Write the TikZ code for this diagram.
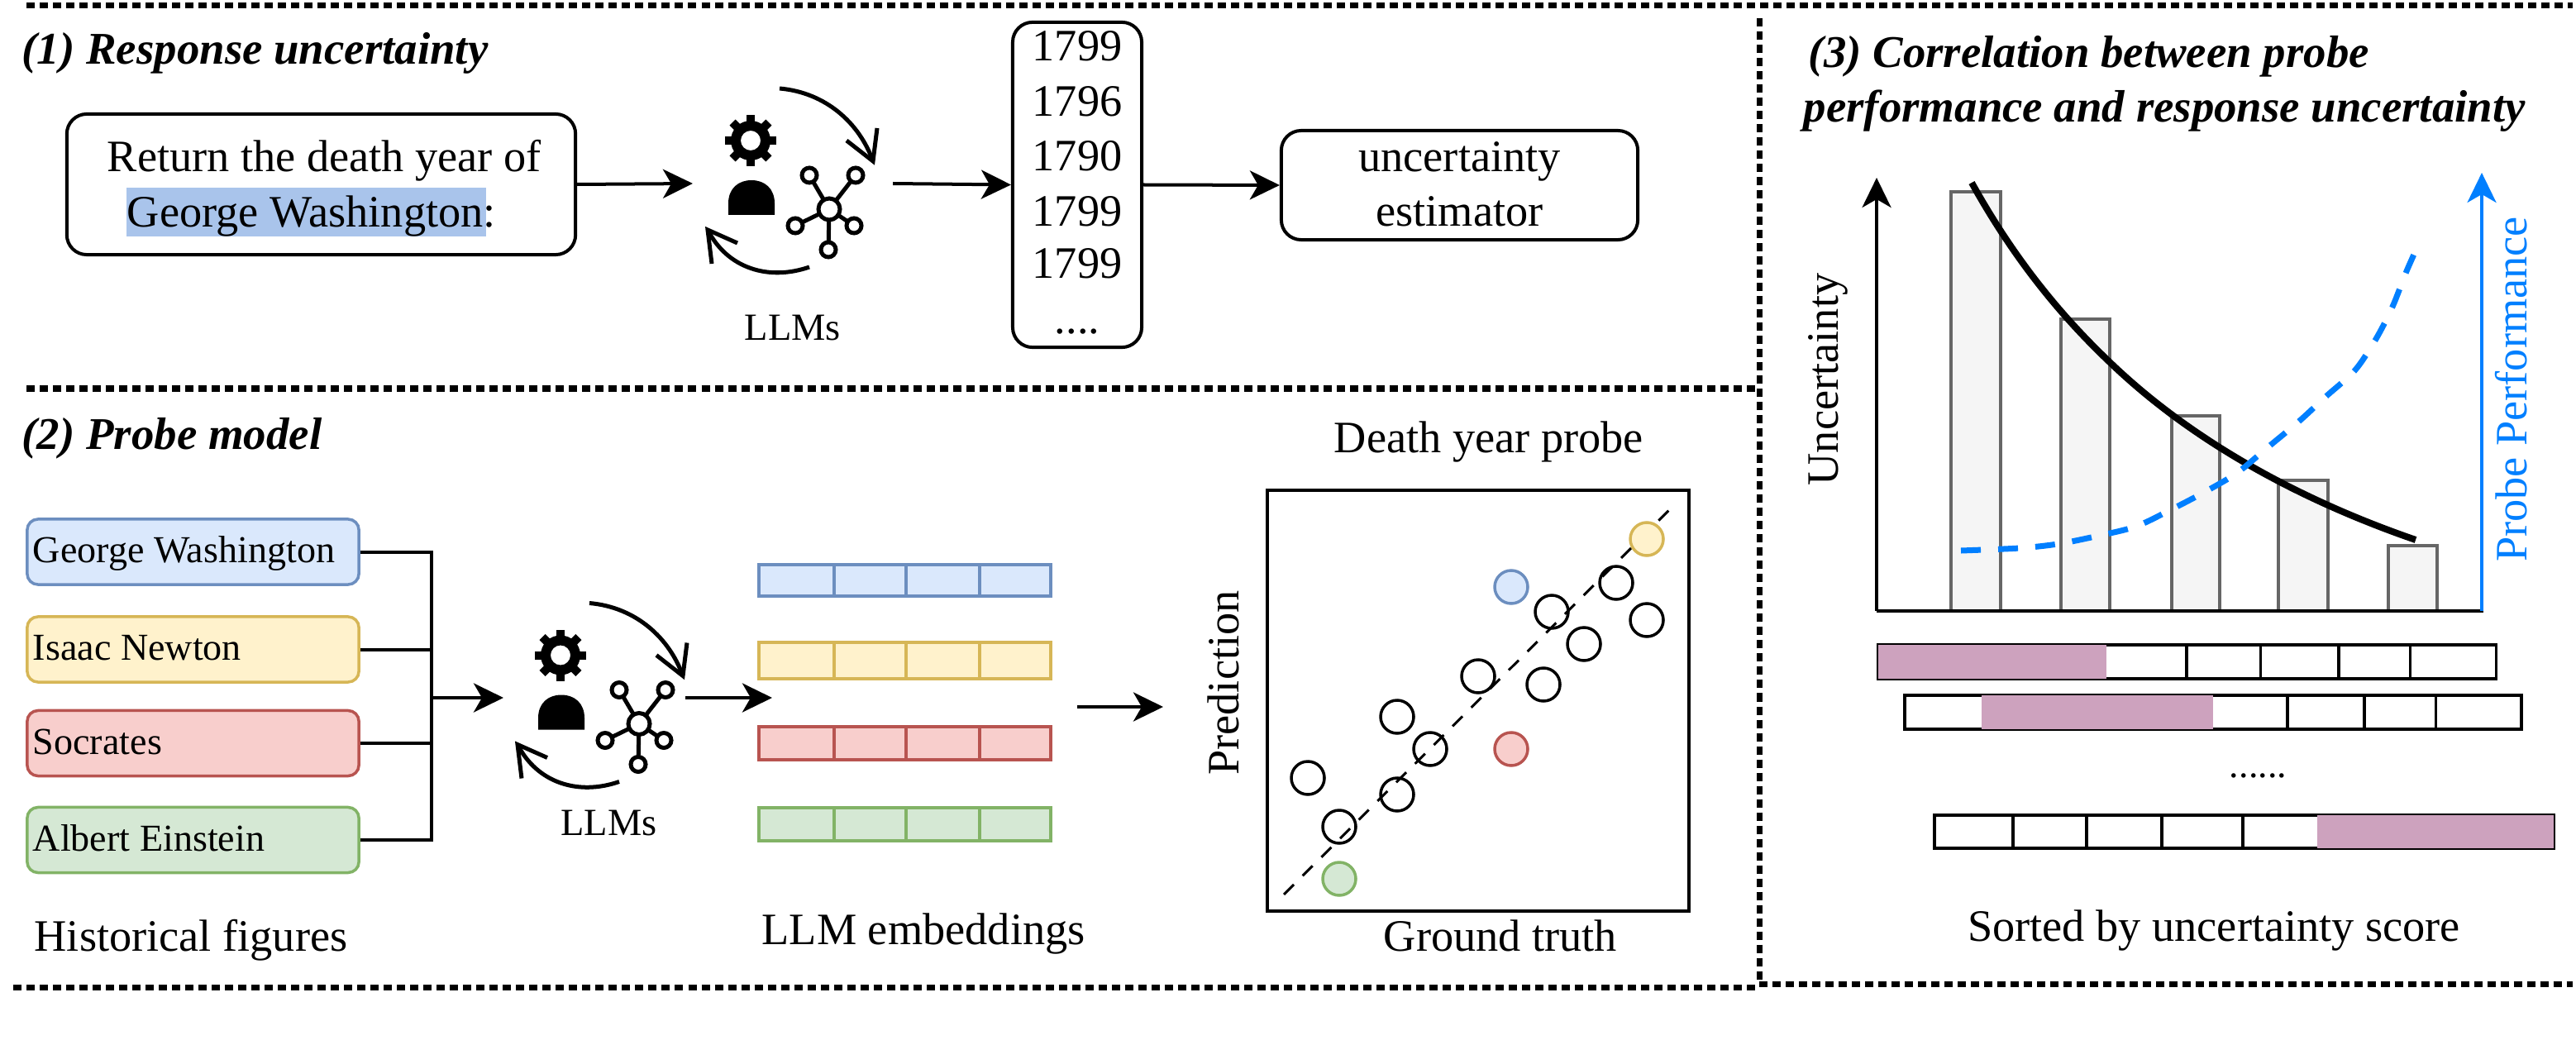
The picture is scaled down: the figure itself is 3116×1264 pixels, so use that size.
\documentclass[tikz,border=0pt]{standalone}
\usepackage{fontspec}
\setmainfont{Liberation Serif}
\usetikzlibrary{arrows.meta}
\definecolor{hl}{HTML}{A9C4EB}
\definecolor{pbl}{HTML}{007FFF}
\definecolor{pink}{HTML}{CDA2BE}
\definecolor{fb}{HTML}{DAE8FC}\definecolor{sb}{HTML}{6C8EBF}
\definecolor{fy}{HTML}{FFF2CC}\definecolor{sy}{HTML}{D6B656}
\definecolor{fr}{HTML}{F8CECC}\definecolor{sr}{HTML}{B85450}
\definecolor{fg}{HTML}{D5E8D4}\definecolor{sg}{HTML}{82B366}
\definecolor{barf}{HTML}{F5F5F5}\definecolor{bars}{HTML}{666666}
\newcommand\bigf{\fontsize{15.45pt}{19pt}\selectfont}
\newcommand\headf{\fontsize{15.6pt}{19pt}\selectfont}
\newcommand\midf{\fontsize{13.1pt}{16pt}\selectfont}
\tikzset{
 x=0.01cm,y=-0.01cm,
 sep/.style={line width=.07cm,dash pattern=on .1cm off .06cm},
 arr/.style={line width=.04cm,-{Stealth[length=.36cm,width=.35cm,inset=.1cm]}},
 conn/.style={line width=.04cm},
 rbox/.style={draw,line width=.04cm,rounded corners=.24cm,inner sep=0pt},
 lab/.style={font=\bigf,inner sep=0pt,anchor=base},
 head/.style={font=\headf\bfseries\itshape,inner sep=0pt,anchor=base west},
 who/.style={draw,line width=.035cm,rounded corners=.13cm,minimum width=4.01cm,minimum height=.79cm,
   text width=3.87cm,align=flush left,inner sep=0pt,font=\midf,text height=.35cm,text depth=.09cm},
 cell/.style={line width=.035cm},
 bar/.style={draw=bars,fill=barf,line width=.04cm},
 dot/.style={line width=.035cm},
 llmicon/.pic={
   \fill[even odd rule] (908,170) circle (24) (908,170) circle (12);
   \foreach \a in {0,45,...,315}{\fill[rotate around={\a:(908,170)}] (903,139) rectangle (913,152);}
   \fill (881,260)--(881,246) .. controls (881,228) and (893,218) .. (909,218) .. controls (925,218) and (937,228) .. (937,246) --(937,260)--cycle;
   \draw[line width=.05cm] (1003,253)--(979,212) (1003,253)--(1035,212) (1003,253)--(962,273) (1003,253)--(1033,273) (1003,253)--(1002,302);
   \foreach \p in {(979,212),(1035,212),(962,273),(1033,273),(1002,302)}{\draw[line width=.05cm,fill=white] \p circle (9);}
   \draw[line width=.05cm,fill=white] (1003,253) circle (13);
   \draw[line width=.05cm] (943,107) .. controls (1000,112) and (1040,150) .. (1056,195);
   \draw[line width=.05cm] (1061,155)--(1056,195)--(1024,170);
   \draw[line width=.05cm] (979,323) .. controls (930,340) and (880,325) .. (856,278);
   \draw[line width=.05cm] (892,294)--(856,278)--(861,319);
 }
}
\begin{document}
\begin{tikzpicture}
\useasboundingbox (0,0) rectangle (3116,1264);
% separators
\draw[sep] (32,7)--(3112,7);
\draw[sep] (32,470)--(2128,470);
\draw[sep] (16,1194)--(2128,1194);
\draw[sep] (2128,1190)--(3112,1190);
\draw[sep] (2128,22)--(2128,1187);
% panel 1
\node[head] (h1) at (26,78) {(1) Response uncertainty};
\fill[hl] (153,227) rectangle (588,286);
\node[rbox,minimum width=6.15cm,minimum height=1.70cm,text width=6.15cm,align=flush left,font=\bigf,
  execute at begin node={\setlength{\baselineskip}{.67cm}}] (ret) at (388.5,223)
  {\hspace*{.49cm}\rule{0pt}{.47cm}Return the death year of\\\hspace*{.73cm}George Washington:};
\pic at (0,0) {llmicon};
\coordinate (in1) at (838,222);
\coordinate (out1) at (1080,222);
\node[lab] (l1) at (959,411) {\fontsize{13.2pt}{16pt}\selectfont LLMs};
\node[rbox,minimum width=1.56cm,minimum height=3.93cm,align=flush center,font=\bigf,
  execute at begin node={\setlength{\baselineskip}{.665cm}}] (years) at (1303,223.5)
  {1799\\1796\\1790\\1799\\[-.03cm]1799\\....\rule[-.06cm]{0pt}{0pt}};
\node[rbox,minimum width=4.31cm,minimum height=1.32cm,align=flush center,font=\bigf,
  execute at begin node={\setlength{\baselineskip}{.66cm}}] (est) at (1765.5,224)
  {uncertainty\\estimator\rule[-.03cm]{0pt}{0pt}};
\draw[arr] (ret.east)--(in1);
\draw[arr] (out1)--(years.west);
\draw[arr] (years.east)--(est.west);
% panel 2
\node[head] (h2) at (26,543) {(2) Probe model};
\node[who,fill=fb,draw=sb] (gw) at (233.5,667.5) {George Washington};
\node[who,fill=fy,draw=sy] (in) at (233.5,785.5) {Isaac Newton};
\node[who,fill=fr,draw=sr] (so) at (233.5,899) {Socrates};
\node[who,fill=fg,draw=sg] (ae) at (233.5,1016) {Albert Einstein};
\node[lab,anchor=base west] (hf) at (41,1150) {Historical figures};
\coordinate (bus) at (522,844);
\draw[conn] (gw.east)-|(bus);
\draw[conn] (in.east)-|(bus);
\draw[conn] (so.east)-|(bus);
\draw[conn] (ae.east)-|(bus);
\coordinate (in2) at (609,844);
\draw[arr] (bus)--(in2);
\pic at (-230,622.5) {llmicon};
\node[lab] (l2) at (736.5,1010) {\fontsize{13.2pt}{16pt}\selectfont LLMs};
\coordinate (out2) at (829,844);
\coordinate (emb2) at (934,844);
\draw[arr] (out2)--(emb2);
\foreach \t/\b/\f/\s in {683/721/fb/sb,777/821/fy/sy,879/919/fr/sr,977/1017/fg/sg}{
  \draw[cell,fill=\f,draw=\s] (918,\t) rectangle (1271,\b);
  \draw[cell,draw=\s] (1009,\t)--(1009,\b) (1096,\t)--(1096,\b) (1185,\t)--(1185,\b);
}
\node[lab,anchor=base west] (emb) at (921,1142) {LLM embeddings};
\coordinate (out3) at (1303,855);
\coordinate (pl) at (1407,855);
\draw[arr] (out3)--(pl);
\node[lab] (dy) at (1801,547) {Death year probe};
\node[draw,line width=.04cm,minimum width=5.1cm,minimum height=5.09cm,inner sep=0pt] (plot) at (1788,847.5) {};
\node[lab,anchor=base] (gt) at (1815,1150) {Ground truth};
\node[lab,rotate=90,anchor=base] (pr) at (1498,826) {Prediction};
\coordinate (d1) at (1553,1082);
\coordinate (d2) at (2024,612);
\draw[line width=.03cm,dash pattern=on .17cm off .15cm] (d1)--(d2);
\foreach \p in {(1955,705),(1877,740),(1992,750),(1916,779),(1788,818),(1867,828),(1690,867),(1730,906),(1582,941),(1690,961),(1620,1000)}{
  \draw[dot] \p circle (20);
}
\draw[dot,fill=fy,draw=sy] (1992,652) circle (20);
\draw[dot,fill=fb,draw=sb] (1828,710) circle (20);
\draw[dot,fill=fr,draw=sr] (1828,906) circle (20);
\draw[dot,fill=fg,draw=sg] (1620,1063) circle (20);
% panel 3
\node[head] (h3a) at (2187,82) {(3) Correlation between probe};
\node[head] (h3b) at (2181,148) {performance and response uncertainty};
\node[lab,rotate=90,anchor=base] (unc) at (2223,459) {Uncertainty};
\node[lab,rotate=90,anchor=base,text=pbl] (pp) at (3056,471) {Probe Performance};
\foreach \l/\r/\t in {2360/2419.5/232,2493/2552/386,2627/2685/503,2756/2815.5/581,2889/2948/660}{
  \draw[bar] (\l,\t) rectangle (\r,739);
}
\coordinate (o) at (2270,739);
\coordinate (ytop) at (2270,215);
\coordinate (xend) at (3004,739);
\coordinate (ptop) at (3002,209);
\coordinate (pbot) at (3002,739);
\draw[conn,line width=.035cm] (o)--(xend);
\draw[arr,line width=.035cm] (o)--(ytop);
\draw[arr,line width=.035cm,draw=pbl,fill=pbl] (pbot)--(ptop);
\draw[line width=.08cm] (2385,221) .. controls (2440,320) and (2499,388) .. (2554,440) .. controls (2664,545) and (2803,612) .. (2922,653);
\draw[line width=.07cm,draw=pbl,dash pattern=on .24cm off .21cm] plot[smooth] coordinates {(2372,666)(2443,663)(2489,658)(2534,649)(2583,637)(2625,617)(2667,595)(2706,572)(2742,542)(2780.5,510)(2813,480)(2848.5,448)(2874,410)(2894,371)(2911,328)(2928,290)};
% rows
\draw[cell] (2272,780) rectangle (3019.5,821);
\foreach \x in {2645,2734.5,2829,2915.5}{\draw[cell] (\x,780)--(\x,821);}
\fill[pink] (2272,780) rectangle (2548,821);
\draw[cell] (2304,841) rectangle (3050,882);
\foreach \x in {2767,2860,2946.5}{\draw[cell] (\x,841)--(\x,882);}
\fill[pink] (2397,841) rectangle (2677,882);
\node[lab,font=\midf] (dd) at (2731.5,940) {......};
\draw[cell] (2340,986) rectangle (3089,1026);
\foreach \x in {2435,2524,2615,2713}{\draw[cell] (\x,986)--(\x,1026);}
\fill[pink] (2803,986) rectangle (3089,1026);
\node[lab] (sorted) at (2678,1138) {Sorted by uncertainty score};
\end{tikzpicture}
\end{document}
